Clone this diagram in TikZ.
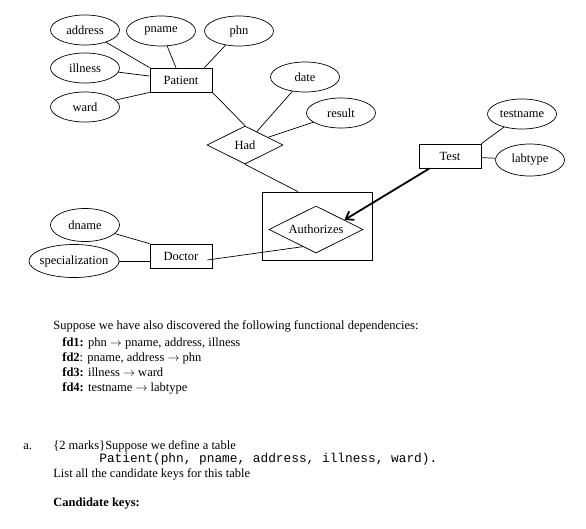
\documentclass[tikz,border=0pt]{standalone}
\usepackage{fontspec}
\setmainfont{Liberation Serif}
\setmonofont{Liberation Mono}
\usepackage{tikz}
\usetikzlibrary{shapes.geometric,arrows.meta,calc,positioning}

\begin{document}
\begin{tikzpicture}[x=1pt, y=-1pt, line width=0.7pt,
    every node/.style={font=\fontsize{12.5}{15}\selectfont},
    attr/.style={ellipse, draw, minimum width=69pt, minimum height=30pt, inner sep=0pt},
    entity/.style={rectangle, draw, minimum width=62pt, minimum height=24pt, inner sep=0pt},
    rel/.style={diamond, draw, aspect=2, inner sep=0pt},
    txt/.style={anchor=base west, inner sep=0pt}]
    \useasboundingbox (0,0) rectangle (586,528);

    % patient side
    \node[entity] (patient) at (181,80) {Patient};
    \node[attr] (address) at (85,30) {address};
    \node[attr] (pname) at (161,31) {pname};
    \node[attr] (phn) at (239,31) {phn};
    \node[attr] (illness) at (85,68) {illness};
    \node[attr] (ward) at (85,107) {ward};

    \node[rel, minimum width=76pt, minimum height=38pt] (had) at (245,145) {Had};
    \node[attr] (date) at (305,77) {date};
    \node[attr] (result) at (341,113) {result};

    % test side
    \node[entity] (test) at (450,156) {Test};
    \node[attr] (testname) at (522,114) {testname};
    \node[attr, minimum height=32pt] (labtype) at (530,160) {labtype};

    % aggregation
    \node[draw, rectangle, minimum width=110pt, minimum height=68pt] (authbox) at (317,226) {};
    \node[rel, minimum width=94pt, minimum height=47pt] (authorizes) at (316,229.5) {Authorizes};

    % doctor side
    \node[entity] (doctor) at (181,256) {Doctor};
    \node[attr, minimum height=33pt] (dname) at (85,225) {dname};
    \node[attr, minimum width=90pt, minimum height=33pt, inner xsep=-2.5pt] (special) at (74,261) {specialization};

    \draw (address) -- (patient.north west);
    \draw (pname) -- (patient);
    \draw (phn) -- ([xshift=-8pt]patient.north east);
    \draw (illness) -- (patient);
    \draw (ward) -- (patient.south west);
    \draw (patient.south east) -- (had.north);
    \draw (date) -- (had);
    \draw (result) -- (had);
    \draw (had.south) -- ([xshift=-19pt]authbox.north);
    \draw (testname) -- (test.north east);
    \draw (labtype) -- (test);
    \draw (dname) -- (doctor.north west);
    \draw (special) -- (special -| doctor.west);
    \draw ([shift={(-5pt,-4pt)}]doctor.east) -- ($(authorizes.south)!0.28!(authorizes.west)$);
    \draw[line width=1.8pt, -{Straight Barb[length=7pt, width=10pt]}]
      (test) -- ($(authorizes.east)!0.4!(authorizes.north)$);

    % question text
    \node[txt] (intro) at (53,329) {Suppose we have also discovered the following functional dependencies:};
    \node[txt] (fdone) at (62,346) {\textbf{fd1:} phn $\rightarrow$ pname, address, illness};
    \node[txt] (fdtwo) at (62,361) {\textbf{fd2}: pname, address $\rightarrow$ phn};
    \node[txt] (fdthree) at (62,376) {\textbf{fd3:} illness $\rightarrow$ ward};
    \node[txt] (fdfour) at (62,391) {\textbf{fd4:} testname $\rightarrow$ labtype};

    \node[txt] (parta) at (23,449) {a.};
    \node[txt] (marks) at (53,449) {\{2 marks\}Suppose we define a table};
    \node[txt, font=\fontsize{12.8}{15}\selectfont\ttfamily] (table) at (99,462) {Patient(phn, pname, address, illness, ward).};
    \node[txt] (listkeys) at (53,477) {List all the candidate keys for this table};
    \node[txt] (keys) at (53,506) {\textbf{Candidate keys:}};
\end{tikzpicture}
\end{document}
